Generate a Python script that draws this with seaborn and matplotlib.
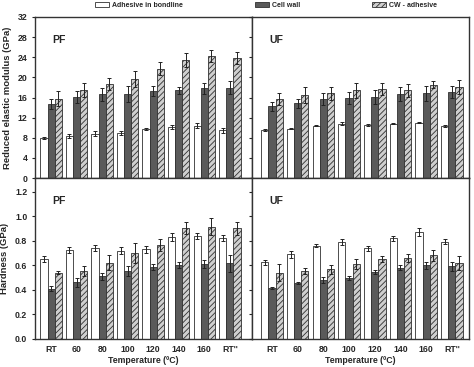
import matplotlib
matplotlib.use("Agg")
import matplotlib.pyplot as plt
import seaborn as sns
import pandas as pd
import numpy as np

sns.set_theme(style="ticks")
plt.rcParams['font.family'] = ['Liberation Sans', 'DejaVu Sans']
plt.rcParams['font.weight'] = 'bold'
plt.rcParams['hatch.linewidth'] = 0.6
plt.rcParams['hatch.color'] = '#7a7a7a'

temps = ["RT", "60", "80", "100", "120", "140", "160", "RT''"]
series = ["Adhesive in bondline", "Cell wall", "CW - adhesive"]

# Reduced elastic modulus (GPa)
pf_mod_adh = [8.0, 8.3, 8.8, 9.0, 9.7, 10.2, 10.4, 9.5]
pf_mod_adh_err = [0.2, 0.4, 0.5, 0.4, 0.2, 0.4, 0.5, 0.5]
pf_mod_cw = [14.8, 16.1, 16.6, 16.7, 17.2, 17.4, 17.8, 17.9]
pf_mod_cw_err = [1.0, 1.1, 1.2, 1.5, 1.0, 0.7, 1.1, 1.3]
pf_mod_cwa = [15.8, 17.5, 18.6, 19.6, 21.7, 23.5, 24.2, 23.8]
pf_mod_cwa_err = [1.5, 1.4, 1.2, 1.6, 1.3, 1.4, 1.2, 1.2]

uf_mod_adh = [9.6, 9.8, 10.4, 10.8, 10.5, 10.8, 11.0, 10.4]
uf_mod_adh_err = [0.2, 0.1, 0.1, 0.3, 0.2, 0.1, 0.1, 0.2]
uf_mod_cw = [14.3, 14.9, 15.7, 15.9, 16.1, 16.7, 16.8, 17.1]
uf_mod_cw_err = [0.9, 0.9, 1.2, 1.2, 1.3, 1.4, 1.5, 1.2]
uf_mod_cwa = [15.7, 16.5, 16.8, 17.4, 17.7, 17.4, 18.5, 18.0]
uf_mod_cwa_err = [1.2, 1.5, 1.3, 1.4, 1.2, 1.3, 0.7, 1.4]

# Hardness (GPa)
pf_h_adh = [0.653, 0.726, 0.737, 0.72, 0.73, 0.83, 0.84, 0.82]
pf_h_adh_err = [0.025, 0.025, 0.025, 0.03, 0.03, 0.03, 0.025, 0.025]
pf_h_cw = [0.41, 0.46, 0.51, 0.55, 0.585, 0.60, 0.61, 0.615]
pf_h_cw_err = [0.02, 0.04, 0.03, 0.04, 0.025, 0.025, 0.03, 0.07]
pf_h_cwa = [0.54, 0.55, 0.62, 0.70, 0.765, 0.905, 0.913, 0.90]
pf_h_cwa_err = [0.015, 0.04, 0.06, 0.08, 0.045, 0.05, 0.07, 0.05]

uf_h_adh = [0.626, 0.69, 0.76, 0.79, 0.74, 0.82, 0.87, 0.79]
uf_h_adh_err = [0.02, 0.03, 0.01, 0.025, 0.02, 0.02, 0.035, 0.02]
uf_h_cw = [0.415, 0.455, 0.48, 0.496, 0.545, 0.58, 0.60, 0.59]
uf_h_cw_err = [0.005, 0.01, 0.025, 0.015, 0.015, 0.02, 0.03, 0.04]
uf_h_cwa = [0.54, 0.553, 0.566, 0.61, 0.65, 0.66, 0.68, 0.62]
uf_h_cwa_err = [0.07, 0.025, 0.04, 0.04, 0.025, 0.03, 0.045, 0.055]

panels = [
    ("PF", (pf_mod_adh, pf_mod_cw, pf_mod_cwa), (pf_mod_adh_err, pf_mod_cw_err, pf_mod_cwa_err)),
    ("UF", (uf_mod_adh, uf_mod_cw, uf_mod_cwa), (uf_mod_adh_err, uf_mod_cw_err, uf_mod_cwa_err)),
    ("PF", (pf_h_adh, pf_h_cw, pf_h_cwa), (pf_h_adh_err, pf_h_cw_err, pf_h_cwa_err)),
    ("UF", (uf_h_adh, uf_h_cw, uf_h_cwa), (uf_h_adh_err, uf_h_cw_err, uf_h_cwa_err)),
]

colors = ["#ffffff", "#5a5a5a", "#cfcfcf"]

fig = plt.figure(figsize=(4.74, 3.67), dpi=100)
L, M, R = 35/474, 252/474, 469/474
T, Mid, B = 1-17/367, 1-178/367, 1-339/367
rects = [
    [L, Mid, M-L, T-Mid], [M, Mid, R-M, T-Mid],
    [L, B, M-L, Mid-B], [M, B, R-M, Mid-B],
]
axes = [fig.add_axes(r) for r in rects]

for i, (ax, (lab, vals, errs)) in enumerate(zip(axes, panels)):
    rows = []
    for s, v in zip(series, vals):
        for t, val in zip(temps, v):
            rows.append({"Temperature": t, "Series": s, "Value": val})
    df = pd.DataFrame(rows)
    sns.barplot(data=df, x="Temperature", y="Value", hue="Series",
                order=temps, hue_order=series, palette=colors,
                width=0.84, errorbar=None, edgecolor="#303030",
                linewidth=0.6, ax=ax, legend=False, saturation=1)
    for k, (cont, e) in enumerate(zip(ax.containers, errs)):
        xs = [p.get_x() + p.get_width()/2 for p in cont.patches]
        hs = [p.get_height() for p in cont.patches]
        if k == 2:
            for p in cont.patches:
                p.set_hatch("//////")
        ax.errorbar(xs, hs, yerr=e, fmt="none", ecolor="#222222",
                    elinewidth=0.7, capsize=1.6, capthick=0.7)
    if i % 2 == 0:
        ax.set_xlim(-0.63, 7.87)
    else:
        ax.set_xlim(-0.78, 7.67)
    if i < 2:
        ax.set_ylim(0, 32)
        ax.set_yticks(np.arange(0, 33, 4))
        ax.set_xticklabels([])
    else:
        ax.set_ylim(0, 1.31)
        ax.set_yticks(np.arange(0, 1.21, 0.2))
        ax.set_yticklabels([f"{v:.1f}" for v in np.arange(0, 1.21, 0.2)])
    if i % 2 == 1:
        ax.set_yticklabels([])
        ax.tick_params(axis="y", length=0)
    ax.set_xlabel("")
    ax.set_ylabel("")
    ax.tick_params(axis="x", length=0, labelsize=6.3, pad=4)
    ax.tick_params(axis="y", labelsize=6.3, width=0.8, length=2.5, pad=3)
    for sp in ax.spines.values():
        sp.set_visible(True)
        sp.set_linewidth(1.0)
        sp.set_color("#333333")
    ax.text(0.08, 0.86, lab, transform=ax.transAxes,
            fontsize=7.5, fontweight="bold", ha="left", va="center")
    if i >= 2:
        ax.set_xlabel("Temperature (\u00baC)", fontsize=6.3, fontweight="bold", labelpad=2)

axes[0].set_ylabel("Reduced elastic modulus (GPa)", fontsize=6.8, fontweight="bold", labelpad=4)
axes[2].set_ylabel("Hardness (GPa)", fontsize=6.8, fontweight="bold", labelpad=4)

handles = [axes[0].containers[k].patches[0] for k in range(3)]
fig.legend(handles, series, loc="upper center", bbox_to_anchor=(0.561, 1.012),
           ncol=3, frameon=False, handlelength=2.1,
           handleheight=0.85, columnspacing=10.3, handletextpad=0.4,
           prop={"weight": "bold", "size": 5})

fig.savefig("out.png", dpi=100)
